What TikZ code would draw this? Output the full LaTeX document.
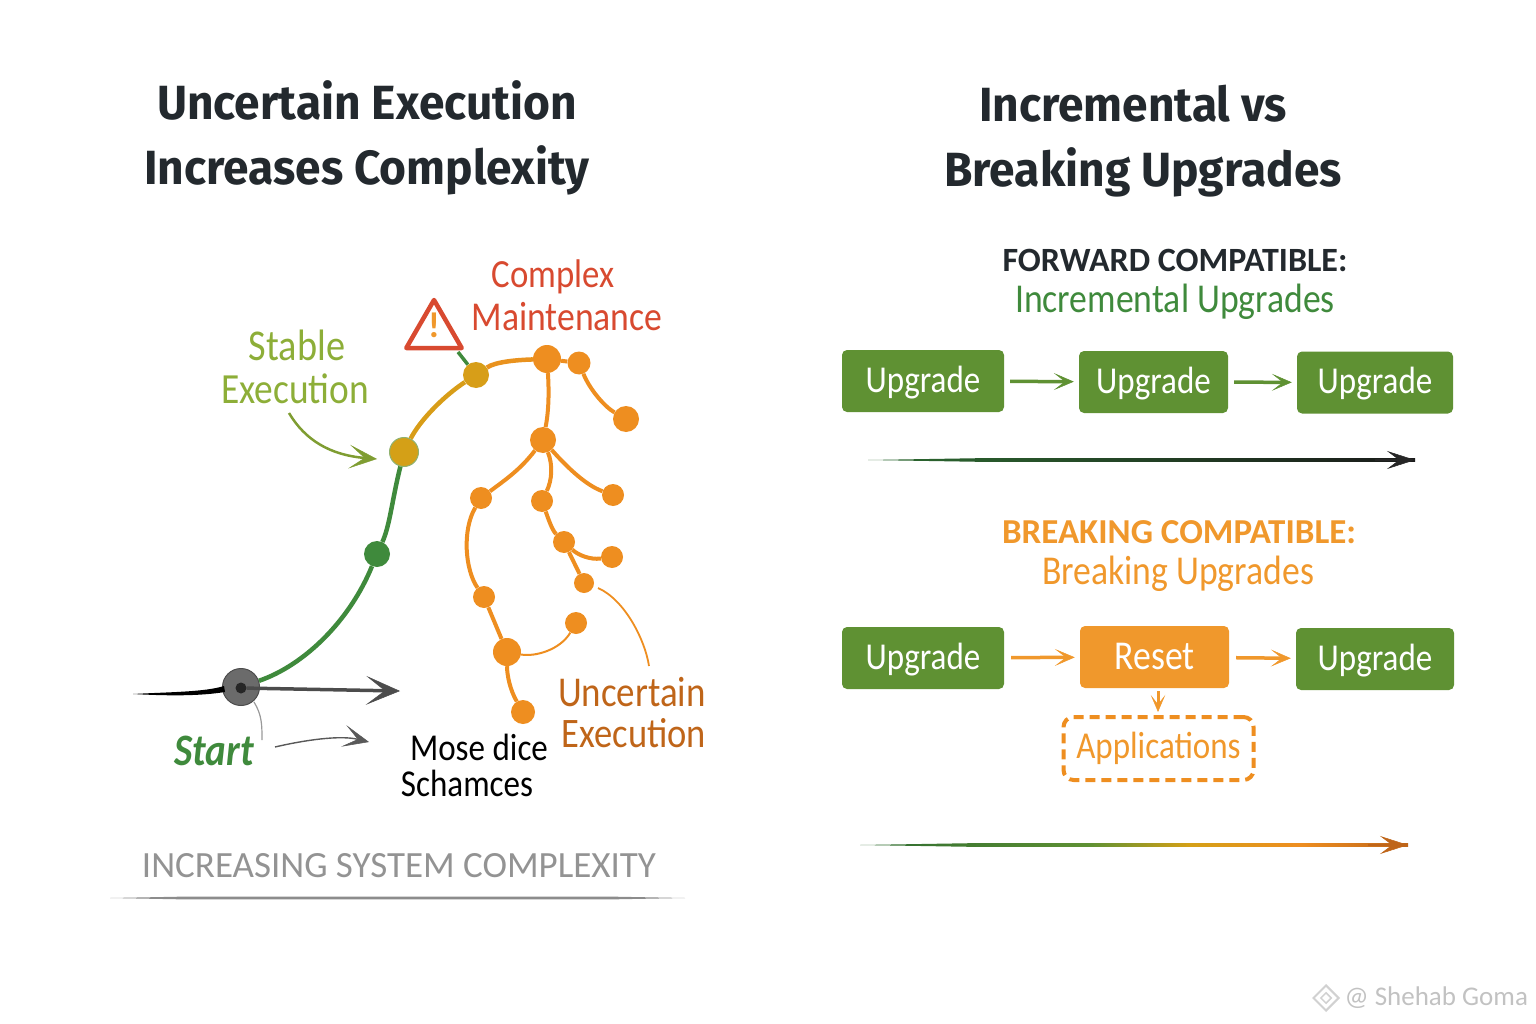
\documentclass[tikz,border=0pt]{standalone}
\usepackage{fontspec}
\setmainfont{Carlito}
\newfontfamily\titlefont[FakeStretch=0.96]{Fira Sans}
\newfontfamily\handfont[FakeStretch=0.87]{Carlito}
\usetikzlibrary{arrows.meta,shapes,calc}
\definecolor{upgreen}{HTML}{5F9133}
\definecolor{uporange}{HTML}{F0982C}
\definecolor{dotorange}{HTML}{EE8E20}
\definecolor{titledark}{HTML}{23292E}
\definecolor{stablegreen}{HTML}{8DAE38}
\definecolor{pathgreen}{HTML}{3F8A3C}
\definecolor{deepgreen}{HTML}{2C6A30}
\definecolor{warnred}{HTML}{D84A30}
\definecolor{uncbrown}{HTML}{BF6519}
\definecolor{gold}{HTML}{D4A017}
\pgfdeclarehorizontalshading{breakfade}{100bp}{color(0bp)=(deepgreen); color(25bp)=(deepgreen); color(46bp)=(upgreen); color(55bp)=(gold); color(65bp)=(dotorange); color(75bp)=(uncbrown); color(100bp)=(uncbrown)}
\tikzset{
  titletext/.style={font=\titlefont\bfseries\fontsize{48}{48}\selectfont,text=titledark},
  hand/.style={font=\handfont\fontsize{#1}{#1}\selectfont},
  dot/.style={circle,fill=dotorange,inner sep=0pt},
  branch/.style={draw=dotorange,line width=4pt},
  barb/.style={-{Stealth[length=#1,width=.85*#1,inset=.55*#1,line width=.5pt]}},
  upbox/.style={rounded corners=5pt,fill=upgreen,text=white,minimum height=62pt,text height=26pt,text depth=4pt,hand=38},
  resetbox/.style={upbox,fill=uporange,hand=41,text height=27pt,text depth=3pt},
  uparrow/.style={draw=upgreen,line width=3.5pt,barb=20pt,shorten <=6pt,shorten >=5pt},
  orarrow/.style={draw=uporange,line width=3.5pt,barb=20pt,shorten <=7pt,shorten >=5pt}
}
\begin{document}
\begin{tikzpicture}[x=1pt,y=-1pt]
\useasboundingbox (0,0) rectangle (1536,1024);
% titles
\node[titletext] (t1) at (367,100) {Uncertain Execution};
\node[titletext] (t2) at (367,170) {Increases Complexity};
\node[titletext] (t3) at (1133,104) {Incremental vs};
\node[titletext] (t4) at (1143,172) {Breaking Upgrades};
% left side
\node[hand=44,text=stablegreen] (ls1) at (297,345) {Stable};
\node[hand=43,text=stablegreen] (ls2) at (295,389) {Execution};
\node[hand=40,text=warnred] (lc1) at (553,277) {Complex};
\node[hand=41,text=warnred] (lc2) at (567,317) {Maintenance};
\node[hand=42.5,text=uncbrown] (lu1) at (632,692) {Uncertain};
\node[hand=42,text=uncbrown] (lu2) at (634,733) {Execution};
\node[text=pathgreen,font=\handfont\itshape\bfseries\fontsize{45}{45}\selectfont] (lst) at (214,751) {Start};
\node[hand=38,text=black] (lm1) at (479,747) {Mose dice};
\node[hand=38,text=black] (lm2) at (467,783) {Schamces};
\node[text=gray!85,font=\fontsize{37}{37}\selectfont] (lx) at (399,866) {INCREASING SYSTEM COMPLEXITY};
% main path
\node[circle,fill=black!58,draw=black!70,line width=1pt,minimum size=37pt,inner sep=0pt] (start) at (241,687) {};
\node[circle,fill=black!85,minimum size=11pt,inner sep=0pt] (startc) at (241,688) {};
\node[dot,fill=pathgreen,minimum size=26pt] (p1) at (377,554) {};
\node[dot,fill=gold,draw=upgreen!70,line width=1pt,minimum size=29pt] (p2) at (404,452) {};
\node[dot,fill=gold!90!dotorange,minimum size=26pt] (p3) at (476,375) {};
\node[dot,minimum size=28pt] (n0) at (547,359) {};
\node[dot,minimum size=23pt] (n1) at (579,363) {};
\node[dot,minimum size=26pt] (n2) at (626,419) {};
\node[dot,minimum size=26pt] (n3) at (543,440) {};
\node[dot,minimum size=22pt] (n4) at (481,498) {};
\node[dot,minimum size=22pt] (n5) at (542,501) {};
\node[dot,minimum size=22pt] (n6) at (613,495) {};
\node[dot,minimum size=22pt] (n7) at (564,542) {};
\node[dot,minimum size=22pt] (n8) at (612,557) {};
\node[dot,minimum size=20pt] (n9) at (584,583) {};
\node[dot,minimum size=22pt] (n10) at (484,597) {};
\node[dot,minimum size=28pt] (n11) at (507,652) {};
\node[dot,minimum size=22pt] (n12) at (576,623) {};
\node[dot,minimum size=24pt] (n13) at (523,712) {};
\coordinate (tailL) at (133,694);
\coordinate (startR) at (400,691);
\coordinate (stubT) at (458,352);
\coordinate (stA) at (289,413);
\coordinate (stB) at (377,459);
\coordinate (unA) at (598,588);
\coordinate (unB) at (649,666);
\coordinate (grA) at (254,702);
\coordinate (grB) at (262,740);
\coordinate (smA) at (275,747);
\coordinate (smB) at (369,742);
\coordinate (baseL) at (110,898);
\coordinate (baseR) at (685,898);
\fill[black] (tailL) .. controls (170,692) and (205,692) .. (224,686) -- (225,692) .. controls (200,696) and (170,696) .. (tailL);
\draw[draw=black!70,line width=3.5pt,barb=34pt] (startc) -- (startR);
\draw[pathgreen,line width=4.5pt] (start) .. controls (305,665) and (350,620) .. (p1);
\draw[pathgreen,line width=4.5pt] (p1) .. controls (390,525) and (392,500) .. (p2);
\draw[gold!85!dotorange,line width=4.5pt] (p2) .. controls (420,420) and (445,395) .. (p3);
\draw[dotorange!80!gold,line width=4.5pt] (p3) .. controls (495,362) and (515,360) .. (n0);
\draw[pathgreen,line width=3.5pt] (stubT) -- (p3);
\draw[branch] (n0) -- (n1);
\draw[branch] (n0) .. controls (549,390) and (549,410) .. (n3);
\draw[branch] (n1) .. controls (590,390) and (605,407) .. (n2);
\draw[branch] (n3) .. controls (520,470) and (505,480) .. (n4);
\draw[branch] (n3) .. controls (553,465) and (552,480) .. (n5);
\draw[branch] (n3) .. controls (565,465) and (585,485) .. (n6);
\draw[branch] (n5) .. controls (548,518) and (552,530) .. (n7);
\draw[branch] (n7) .. controls (578,555) and (590,560) .. (n8);
\draw[branch] (n7) -- (n9);
\draw[branch] (n4) .. controls (462,530) and (465,570) .. (n10);
\draw[branch] (n10) -- (n11);
\draw[branch] (n11) .. controls (507,675) and (510,690) .. (n13);
\draw[dotorange,line width=2pt] (n11) .. controls (535,657) and (560,650) .. (n12);
\draw[dotorange,line width=1.8pt] (unA) .. controls (625,600) and (645,640) .. (unB);
\draw[stablegreen!90!black,line width=2.5pt,barb=28pt] (stA) .. controls (305,440) and (330,455) .. (stB);
\draw[black!40,line width=1.2pt] (grA) .. controls (262,715) and (262,725) .. (grB);
\draw[black!65,line width=1.4pt,barb=26pt] (smA) .. controls (305,740) and (340,735) .. (smB);
\fill[black!45] (baseL) -- ([yshift=1.3pt]$(baseL)!.12!(baseR)$) -- ([yshift=1.3pt]$(baseL)!.88!(baseR)$) -- (baseR) -- ([yshift=-1.3pt]$(baseL)!.88!(baseR)$) -- ([yshift=-1.3pt]$(baseL)!.12!(baseR)$) -- cycle;
% warning sign
\node[regular polygon,regular polygon sides=3,draw=warnred,line width=4.5pt,line join=round,minimum size=64pt,inner sep=0pt] (warn) at (434,332) {};
\node[text=uporange,font=\bfseries\fontsize{36}{36}\selectfont] (warnm) at (434,325) {!};
% right side, forward
\node[font=\bfseries\fontsize{34}{34}\selectfont,text=titledark] (fc) at (1175,260) {FORWARD COMPATIBLE:};
\node[hand=41,text=pathgreen] (fi) at (1175,302) {Incremental Upgrades};
\node[upbox,minimum width=162pt] (u1) at (923,381) {Upgrade};
\node[upbox,minimum width=149pt] (u2) at (1153.5,382) {Upgrade};
\node[upbox,minimum width=156pt] (u3) at (1375,382.5) {Upgrade};
\draw[uparrow] (u1) -- (u2);
\draw[uparrow] (u2) -- (u3);
\coordinate (fwdL) at (868,460);
\coordinate (fwdR) at (1415,460);
\path[left color=deepgreen,middle color=deepgreen,right color=black!90] (fwdL) -- ([xshift=110pt,yshift=1.8pt]fwdL) -- ([yshift=1.8pt]fwdR) -- ([yshift=-1.8pt]fwdR) -- ([xshift=110pt,yshift=-1.8pt]fwdL) -- cycle;
\draw[black!85,line width=2pt,-{Stealth[length=28pt,width=18pt,inset=12pt,line width=.5pt]}] ([xshift=-40pt]fwdR) -- (fwdR);
% right side, breaking
\node[font=\bfseries\fontsize{35}{35}\selectfont,text=uporange] (bc) at (1179,532) {BREAKING COMPATIBLE:};
\node[hand=41,text=uporange] (bi) at (1178,574) {Breaking Upgrades};
\node[upbox,minimum width=162pt] (v1) at (923,658) {Upgrade};
\node[resetbox,minimum width=149pt] (v2) at (1154.5,657) {Reset};
\node[upbox,minimum width=158pt] (v3) at (1375,659) {Upgrade};
\node[draw=dotorange,dash pattern=on 10pt off 6pt,line width=4pt,rounded corners=10pt,text=uporange,hand=38,minimum width=190pt,minimum height=63pt] (app) at (1158.5,748.5) {Applications};
\draw[orarrow] (v1) -- (v2);
\draw[orarrow] (v2) -- (v3);
\draw[draw=uporange,line width=3pt,barb=17pt,shorten <=3pt,shorten >=3pt] ([xshift=3.5pt]v2.south) -- ([xshift=-.5pt]app.north);
\coordinate (brkL) at (860,845);
\coordinate (brkR) at (1408,845);
\path[shading=breakfade] (brkL) -- ([xshift=110pt,yshift=1.8pt]brkL) -- ([yshift=1.8pt]brkR) -- ([yshift=-1.8pt]brkR) -- ([xshift=110pt,yshift=-1.8pt]brkL) -- cycle;
\draw[uncbrown,line width=2pt,-{Stealth[length=28pt,width=18pt,inset=12pt,line width=.5pt]}] ([xshift=-40pt]brkR) -- (brkR);
% watermark
\node[diamond,draw=black!18,line width=2pt,minimum size=26pt,inner sep=0pt] (wmi) at (1326,998) {};
\node[diamond,draw=black!18,line width=1.5pt,minimum size=11pt,inner sep=0pt] (wmj) at (1326,998) {};
\node[text=black!24,font=\fontsize{27}{27}\selectfont,anchor=west] (wm) at (1341,998) {@ Shehab Goma};
\end{tikzpicture}
\end{document}
